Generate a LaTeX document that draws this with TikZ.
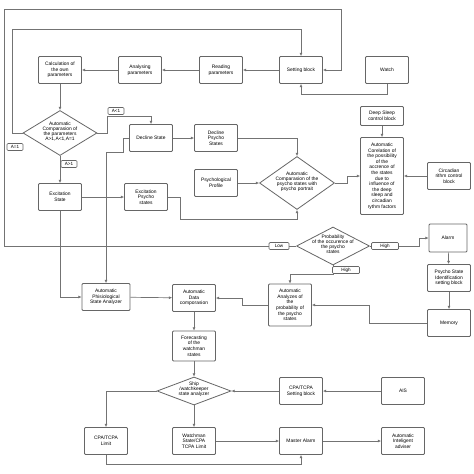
\documentclass[tikz,border=0pt]{standalone}
\usepackage{fontspec}
\setmainfont{Liberation Sans}
\usetikzlibrary{arrows.meta,shapes.geometric,positioning}
\tikzset{>={Latex[width=3pt,length=3.2pt]}}
\tikzset{block/.style={shape=rectangle, draw=black!60, line width=0.8pt, rounded corners=1pt,
    fill=white, align=center, inner sep=1pt, minimum width=43pt, minimum height=27pt,
    font=\fontsize{4.9}{5.6}\selectfont}}
\tikzset{test/.style={shape=diamond, draw=black!60, line width=0.8pt, fill=white,
    inner sep=0pt, font=\fontsize{4.9}{5.6}\selectfont}}
\tikzset{tag/.style={shape=rectangle, draw=black!60, line width=0.7pt, rounded corners=1pt,
    fill=white, inner sep=0.8pt, minimum width=16pt, minimum height=7pt,
    font=\fontsize{4.6}{5}\selectfont}}
\tikzset{link/.style={->, draw=black!55, line width=0.7pt}}
\newcommand{\dtext}[1]{\makebox[0pt]{\smash{\renewcommand{\arraystretch}{0.8}%
    \begin{tabular}[c]{@{}c@{}}#1\end{tabular}}}}

\begin{document}
\begin{tikzpicture}[x=1pt, y=-1pt]
    \useasboundingbox (0,0) rectangle (474,474);

    % top row
    \node(calc)[block] at (60,70)   {Calculation of\\the own\\parameters};
    \node(anl)[block]  at (140,70)  {Analysing\\parameters};
    \node(rd)[block]   at (221,70)  {Reading\\parameters};
    \node(set)[block]  at (301,70)  {Setting block};
    \node(watch)[block] at (387,70) {Watch};

    \node(cmp)[test, minimum width=74pt, minimum height=45pt] at (60,133)
        {\dtext{Automatic\\Comparasion of\\the parameters\\A>1,A<1,A=1}};

    % psycho states
    \node(decl)[block]    at (151,138) {Decline State};
    \node(declps)[block]  at (216,138) {Decline\\Psycho\\States};
    \node(exc)[block]     at (60,197)  {Excitation\\State};
    \node(excps)[block]   at (146,197) {Excitation\\Psycho\\states};
    \node(prof)[block]    at (216,183) {Psychological\\Profile};
    \node(port)[test, minimum width=75pt, minimum height=53pt] at (297,183)
        {\dtext{Automatic\\Comparasion of the\\psycho states with\\psycho portrait}};

    \node(deep)[block, minimum height=19pt] at (382,116) {Deep Sleep\\control block};
    \node(corel)[block, minimum height=77pt] at (382,176)
        {Automatic\\Corelation of\\the possibility\\of the\\accrence of\\the states\\due to\\influence of\\the deep\\sleep and\\circadian\\rythm factors};
    \node(circ)[block] at (449,176) {Circadian\\rithm control\\block};

    \node(prob)[test, minimum width=73pt, minimum height=38pt] at (333,246)
        {\dtext{Probability\\of the occurence of\\the psycho\\states}};
    \node(alarm)[block, minimum width=38pt, minimum height=28pt] at (448,238) {Alarm};
    \node(ident)[block] at (449,278) {Psycho State\\Identification\\setting block};
    \node(mem)[block]   at (449,323) {Memory};
    \node(anz)[block, minimum height=42pt] at (290,305)
        {Automatic\\Analyzes of\\the\\probability of\\the psycho\\states};

    % watchman part
    \node(phys)[block, minimum width=48pt] at (106,297) {Automatic\\Phisiological\\State Analyzer};
    \node(dcmp)[block] at (194,298) {Automatic\\Data\\comporasion};
    \node(fore)[block, minimum height=30pt] at (194,346) {Forecasting\\of the\\watchman\\states};
    \node(ship)[test, minimum width=74pt, minimum height=28pt] at (194,391)
        {\dtext{Ship\\/watchkeeper\\state analyzer}};
    \node(cpaset)[block] at (301,391) {CPA/TCPA\\Setting block};
    \node(ais)[block]    at (403,391) {AIS};
    \node(lim)[block]    at (106,441) {CPA/TCPA\\Limit};
    \node(wlim)[block]   at (194,441) {Watchman\\State/CPA\\TCPA Limit};
    \node(master)[block] at (301,441) {Master Alarm};
    \node(adv)[block]    at (403,441) {Automatic\\Inteligent\\adviser};

    % labels that break the lines
    \node(low)[tag, minimum width=20pt] at (279,246) {Low};
    \node(hiR)[tag, minimum width=27pt] at (385,246) {High};

    % corner points
    \coordinate(innerL) at (12,29);
    \coordinate(outerL) at (4,9);
    \coordinate(outerR) at (341,9);
    \coordinate(ltA) at (107,116);
    \coordinate(exB) at (180,219);
    \coordinate(dB) at (106,152);
    \coordinate(hB) at (290,274);

    \draw [link] (set) to (rd);
    \draw [link] (rd) to (anl);
    \draw [link] (anl) to (calc);
    \draw [link] (calc) to (cmp);
    \draw [link] (watch.south) -- ++(0,10) -| (set.south);
    \draw [link] (cmp.west) -| (innerL) -| (set.north);
    \draw [link] (cmp.east) -| (ltA) -| (decl.north);
    \draw [link] (cmp) to (exc);
    \draw [link] (exc) to (excps);
    \draw [link] (decl) to (declps);
    \draw [link] (declps.east) -| (port.north);
    \draw [link] (excps.east) -| (exB) -| (port.south);
    \draw [link] (prof) to (port);
    \draw [link] (port.east) -- ++(12,0) |- (corel.west);
    \draw [link] (deep) to (corel);
    \draw [link] (circ) to (corel);

    \draw [link, -] (prob.west) -- (low.east);
    \draw [link] (low.west) -| (outerL) -- (outerR) |- (set.east);
    \draw [link, -] (prob.east) -- (hiR.west);
    \draw [link] (hiR.east) -- ++(20,0) |- (alarm.west);
    \draw [link] (prob.south) |- (hB) -- (anz.north);
    \draw [link] (alarm) to (ident);
    \draw [link] (ident) to (mem);
    \draw [link] (mem.west) -- ++(-58,0) |- (anz.east);
    \draw [link] (anz.west) -- ++(-26,0) |- (dcmp.east);

    \draw [link] (exc.south) |- (phys.west);
    \draw [link] (decl.west) -- ++(-6,0) |- (dB) -- (phys.north);
    \draw [link] (phys) to (dcmp);
    \draw [link] (dcmp) to (fore);
    \draw [link] (fore) to (ship);
    \draw [link] (ship.west) -| (lim.north);
    \draw [link] (ship) to (wlim);
    \draw [link] (cpaset) to (ship.east);
    \draw [link] (ais) to (cpaset);
    \draw [link] (wlim) to (master);
    \draw [link] (master) to (adv);
    \draw [link] (lim.south) -- ++(0,9) -| (master.south);

    % labels on the lines
    \node(tlt)[tag] at (116,111) {A<1};
    \node(teq)[tag] at (15,147)  {A=1};
    \node(tgt)[tag] at (69,164)  {A>1};
    \node(hiB)[tag, minimum width=27pt] at (346,270) {High};
\end{tikzpicture}
\end{document}
